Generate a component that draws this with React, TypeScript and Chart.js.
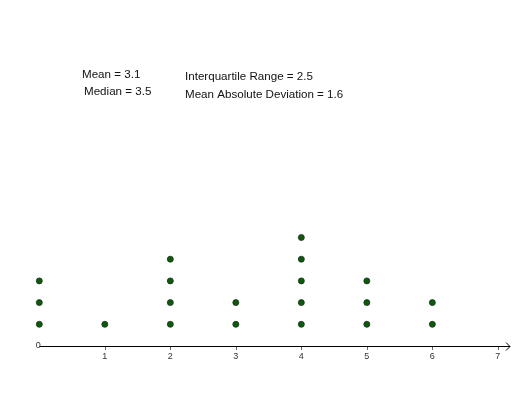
import React, { useEffect, useRef } from "react";
import { Chart, registerables } from "chart.js";

Chart.register(...registerables);

const values = [0, 1, 2, 3, 4, 5, 6];
const counts = [3, 1, 4, 2, 5, 3, 2];
const tickValues = [0, 1, 2, 3, 4, 5, 6, 7];
const tickLabels = ["0", "1", "2", "3", "4", "5", "6", "7"];
const statsLeft = ["Mean = 3.1", "Median = 3.5"];
const statsRight = ["Interquartile Range = 2.5", "Mean Absolute Deviation = 1.6"];

const axisPlugin = {
  id: "dotAxis",
  afterDatasetsDraw(chart: any) {
    const ctx = chart.ctx;
    const xs = chart.scales.x;
    const ys = chart.scales.y;
    const y0 = Math.round(ys.getPixelForValue(0));
    const x0 = xs.getPixelForValue(0);
    const xEnd = chart.chartArea.right - 2;
    ctx.save();
    ctx.strokeStyle = "#000";
    ctx.lineWidth = 1;
    ctx.beginPath();
    ctx.moveTo(x0, y0 + 0.5);
    ctx.lineTo(xEnd, y0 + 0.5);
    ctx.stroke();
    ctx.beginPath();
    ctx.moveTo(xEnd - 4, y0 - 3.5);
    ctx.lineTo(xEnd, y0 + 0.5);
    ctx.lineTo(xEnd - 4, y0 + 4.5);
    ctx.stroke();
    ctx.font = "9px 'Liberation Sans', Arial, sans-serif";
    ctx.fillStyle = "#333";
    ctx.textAlign = "center";
    ctx.textBaseline = "middle";
    tickValues.forEach((v, i) => {
      const px = xs.getPixelForValue(v);
      if (v === 0) {
        ctx.fillText(tickLabels[i], px - 1, y0);
        return;
      }
      ctx.strokeStyle = "#666";
      ctx.beginPath();
      ctx.moveTo(Math.round(px) + 0.5, y0 + 1);
      ctx.lineTo(Math.round(px) + 0.5, y0 + 4);
      ctx.stroke();
      ctx.fillText(tickLabels[i], px, y0 + 11);
    });
    ctx.fillStyle = "#111";
    ctx.textAlign = "left";
    ctx.textBaseline = "alphabetic";
    ctx.font = "11.6px 'Liberation Sans', Arial, sans-serif";
    ctx.fillText(statsLeft[0], 82, 77.5);
    ctx.fillText(statsLeft[1], 84, 95);
    ctx.fillText(statsRight[0], 185, 79.5);
    ctx.fillText(statsRight[1], 185, 98);
    ctx.restore();
  },
};

export default function App() {
  const ref = useRef<HTMLCanvasElement>(null);
  useEffect(() => {
    document.body.style.margin = "0";
    const points: { x: number; y: number }[] = [];
    values.forEach((v, i) => {
      for (let k = 1; k <= counts[i]; k++) points.push({ x: v, y: k });
    });
    const chart = new Chart(ref.current!, {
      type: "scatter",
      data: {
        datasets: [
          {
            data: points,
            pointRadius: 3,
            pointHoverRadius: 3,
            backgroundColor: "#0a5c0a",
            borderColor: "#1e2e1e",
            borderWidth: 0.8,
            clip: false,
          },
        ],
      },
      options: {
        animation: false,
        responsive: false,
        maintainAspectRatio: false,
        layout: { padding: 0, autoPadding: false },
        plugins: { legend: { display: false }, tooltip: { enabled: false } },
        scales: {
          x: { type: "linear", min: -0.6, max: 7.216, display: false },
          y: { type: "linear", min: -2.166, max: 15.945, display: false },
        },
      },
      plugins: [axisPlugin],
    });
    return () => chart.destroy();
  }, []);
  return (
    <div style={{ position: "absolute", left: 0, top: 0, width: 512, height: 393, background: "#fff" }}>
      <canvas ref={ref} width={512} height={393} style={{ display: "block" }} />
    </div>
  );
}
